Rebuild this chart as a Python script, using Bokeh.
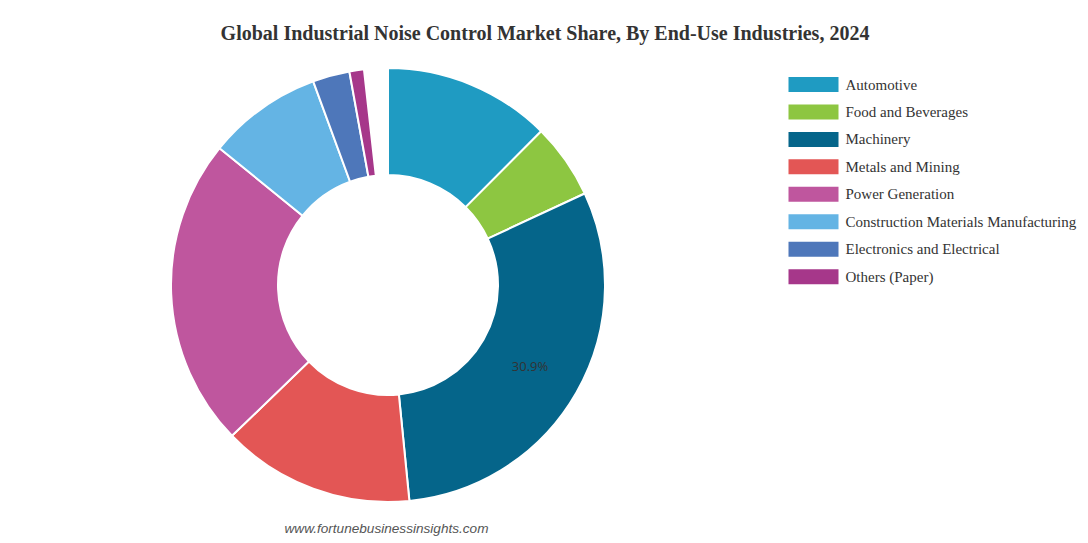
import math
from bokeh.plotting import figure
from bokeh.models import Range1d, ColumnDataSource
from bokeh.core.properties import value
from bokeh.embed import file_html
from bokeh.resources import INLINE

# ---- data ----
categories = ["Automotive", "Food and Beverages", "Machinery", "Metals and Mining",
              "Power Generation", "Construction Materials Manufacturing",
              "Electronics and Electrical", "Others (Paper)"]
shares = [12.7, 5.7, 30.9, 14.6, 23.5, 8.7, 2.8, 1.1]
hidden_share = 1.8   # hidden series item leaving a gap at the top
colors = ["#1f9bc2", "#8dc641", "#05658a", "#e35655",
          "#bf569e", "#64b4e4", "#4e77ba", "#a6378a"]
labelled = ["Machinery"]
title = "Global Industrial Noise Control Market Share, By End-Use Industries, 2024"
source_note = "www.fortunebusinessinsights.com"

W, H = 1088, 543
p = figure(width=W, height=H, output_backend="svg", toolbar_location=None,
           x_range=Range1d(0, W), y_range=Range1d(0, H), min_border=0)
p.axis.visible = False
p.grid.visible = False
p.outline_line_color = None

cx, cy = 387.5, H - 284.5
r_in, r_out = 110, 217

total = sum(shares) + hidden_share
starts, ends, mids = [], [], []
acc = 0.0
for s in shares:
    t0 = acc / total * 2 * math.pi
    acc += s
    t1 = acc / total * 2 * math.pi
    starts.append(math.pi / 2 - t0)
    ends.append(math.pi / 2 - t1)
    mids.append((t0 + t1) / 2)

src = ColumnDataSource(dict(start=starts, end=ends, color=colors, cat=categories))
p.annular_wedge(x=cx, y=cy, inner_radius=r_in, outer_radius=r_out,
                inner_radius_units="screen", outer_radius_units="screen",
                start_angle="start", end_angle="end", direction="clock",
                fill_color="color", line_color="white", line_width=2, source=src)

# data label
rm = (r_in + r_out) / 2
lx, ly, lt = [], [], []
for c, s, m in zip(categories, shares, mids):
    if c in labelled:
        lx.append(cx + rm * math.sin(m))
        ly.append(cy + rm * math.cos(m))
        lt.append(f"{s:.1f}%")
p.text(x=lx, y=ly, text=lt, text_align="center", text_baseline="middle",
       text_font=value("Open Sans"), text_font_size="13px", text_color="#333333")

# legend
n = len(categories)
row0, step = H - 84, 27.45
ys = [row0 - i * step for i in range(n)]
p.rect(x=[813] * n, y=ys, width=50, height=15, width_units="screen",
       height_units="screen", fill_color=colors, line_color=None)
p.text(x=[845] * n, y=ys, text=categories, text_align="left", text_baseline="middle",
       text_font=value("Liberation Serif"), text_font_size="15px", text_color="#333333")

# title
p.text(x=[544.5], y=[H - 32], text=[title], text_align="center",
       text_baseline="middle", text_font=value("Liberation Serif"),
       text_font_style="bold", text_font_size="20px", text_color="#333333")

# source note
p.text(x=[386], y=[H - 528], text=[source_note], text_align="center",
       text_baseline="middle", text_font=value("Liberation Sans"),
       text_font_style="italic", text_font_size="13.6px", text_color="#555555")

open("out.html", "w").write(file_html(p, INLINE))
